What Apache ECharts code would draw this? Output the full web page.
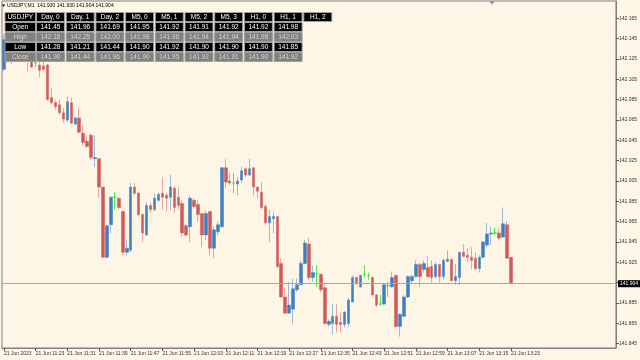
<!DOCTYPE html>
<html><head><meta charset="utf-8">
<script src="https://cdn.jsdelivr.net/npm/echarts@6/dist/echarts.min.js"></script>
<style>html,body{margin:0;padding:0;background:#fdf5e6}#c{width:640px;height:360px}</style>
</head><body><div id="c"></div>
<script>
// ---- data ----
const symbolTitle = 'USDJPY,M1  141.930 141.930 141.904 141.904';
const firstLabel = '21 Jun 2023';
const datePrefix = '21 Jun ';
const startHour = 11, startMinute = 15, slotCount = 155;
const opens = [142.115,142.144,142.130,142.145,142.150,142.142,142.148,142.130,142.121,142.119,
142.118,142.119,142.087,142.082,142.080,142.072,142.065,142.082,142.061,142.067,
142.052,142.044,142.050,142.027,142.027,141.999,141.930,141.962,141.989,141.988,
141.975,141.935,141.937,141.999,141.993,141.972,141.952,141.981,141.977,141.986,
141.993,141.991,141.989,141.998,141.989,141.983,141.961,141.960,141.986,141.982,
141.973,141.952,141.975,141.939,141.955,141.960,142.018,142.005,142.003,142.002,
142.006,142.017,142.011,142.018,141.999,141.994,141.980,141.964,141.968,141.970,
141.924,141.891,141.875,141.879,141.898,141.903,141.924,141.943,141.910,141.914,
141.913,141.900,141.864,141.865,141.872,141.866,141.864,141.865,141.886,141.910,
141.901,141.913,141.912,141.910,141.893,141.884,141.884,141.902,141.901,141.912,
141.862,141.872,141.891,141.907,141.911,141.923,141.918,141.920,141.921,141.911,
141.923,141.911,141.926,141.928,141.907,141.910,141.935,141.932,141.930,141.929,
141.919,141.930,141.942,141.953,141.954,141.954,141.950,141.962,141.930];
const closes = [142.144,142.130,142.145,142.150,142.142,142.148,142.130,142.117,142.121,142.114,
142.115,142.085,142.082,142.078,142.072,142.066,142.083,142.062,142.067,142.053,
142.043,142.039,142.028,142.028,141.999,141.930,141.961,141.989,141.989,141.979,
141.935,141.939,141.999,141.993,141.972,141.954,141.981,141.977,141.988,141.992,
141.989,141.988,141.999,141.979,141.981,141.954,141.952,141.988,141.980,141.972,
141.952,141.973,141.939,141.957,141.962,142.018,142.004,142.003,142.003,142.005,
142.015,142.011,142.017,141.999,141.995,141.979,141.964,141.970,141.970,141.921,
141.891,141.875,141.883,141.899,141.903,141.924,141.944,141.910,141.915,141.914,
141.898,141.865,141.867,141.872,141.864,141.864,141.876,141.888,141.910,141.905,
141.912,141.913,141.912,141.893,141.883,141.884,141.903,141.902,141.910,141.862,
141.874,141.891,141.911,141.911,141.923,141.911,141.924,141.911,141.910,141.923,
141.911,141.927,141.928,141.907,141.911,141.935,141.931,141.930,141.927,141.919,
141.930,141.945,141.953,141.954,141.954,141.949,141.963,141.929,141.904];
const lows = [142.113,142.127,142.120,142.141,142.138,142.136,142.113,142.116,142.117,142.107,
142.113,142.084,142.080,142.075,142.070,142.062,142.063,142.061,142.060,142.052,
142.040,142.038,142.026,142.019,141.989,141.929,141.929,141.954,141.977,141.977,
141.932,141.932,141.935,141.991,141.970,141.945,141.951,141.974,141.975,141.985,
141.977,141.975,141.977,141.974,141.977,141.950,141.950,141.945,141.978,141.965,
141.940,141.947,141.932,141.929,141.952,141.959,141.998,142.001,141.993,141.991,
142.003,142.009,142.010,141.991,141.988,141.977,141.962,141.945,141.954,141.919,
141.890,141.875,141.875,141.864,141.896,141.903,141.923,141.908,141.906,141.901,
141.896,141.864,141.862,141.854,141.856,141.856,141.861,141.862,141.886,141.903,
141.900,141.910,141.908,141.891,141.881,141.882,141.883,141.891,141.900,141.861,
141.852,141.871,141.890,141.905,141.910,141.901,141.915,141.910,141.905,141.909,
141.905,141.908,141.925,141.906,141.903,141.903,141.930,141.925,141.918,141.917,
141.915,141.929,141.940,141.942,141.952,141.947,141.949,141.929,141.904];
const highs = [142.149,142.150,142.152,142.156,142.160,142.152,142.150,142.135,142.127,142.122,
142.124,142.120,142.096,142.085,142.085,142.077,142.088,142.087,142.068,142.077,
142.060,142.050,142.052,142.050,142.027,141.999,141.962,141.990,141.994,141.989,
141.976,141.947,142.003,142.003,141.994,141.972,141.984,141.984,141.993,141.993,
142.009,141.993,142.011,142.000,141.999,141.986,141.963,141.991,141.988,141.986,
141.973,141.976,141.975,141.960,141.965,142.019,142.027,142.013,142.013,142.009,
142.019,142.018,142.027,142.018,141.999,142.004,141.982,141.977,141.975,141.970,
141.929,141.900,141.906,141.909,141.909,141.927,141.947,141.949,141.922,141.922,
141.914,141.905,141.869,141.884,141.884,141.876,141.877,141.890,141.912,141.911,
141.913,141.922,141.915,141.911,141.894,141.893,141.904,141.906,141.916,141.913,
141.875,141.893,141.912,141.913,141.927,141.925,141.927,141.931,141.927,141.925,
141.923,141.929,141.937,141.928,141.923,141.935,141.943,141.939,141.940,141.935,
141.932,141.946,141.964,141.960,141.959,141.958,141.979,141.966,141.930];
const currentPrice = 141.904;
const yTicks = [141.845,141.865,141.885,141.905,141.925,141.945,141.965,141.985,142.005,142.025,
142.045,142.065,142.085,142.105,142.125,142.145,142.165];
const tableHeaders = ['USDJPY','Day, 0','Day, 1','Day, 2','M5, 0','M5, 1','M5, 2','M5, 3','H1, 0','H1, 1','H1, 2'];
const rowLabels = ['Open','High','Low','Close'];
const openRow  = ['141.45','141.96','141.69','141.95','141.92','141.91','141.92','141.92','141.98'];
const highRow  = ['142.16','142.25','142.00','141.98','141.96','141.94','141.94','141.98','142.03'];
const lowRow   = ['141.28','141.21','141.44','141.90','141.92','141.90','141.90','141.90','141.85'];
const closeRow = ['141.90','141.44','141.96','141.90','141.95','141.92','141.91','141.90','141.92'];

// ---- build ----
const times = [];
for (let k = 0; k < slotCount; k++) {
  const t = startHour * 60 + startMinute + k;
  times.push(String(Math.floor(t / 60)).padStart(2, '0') + ':' + String(t % 60).padStart(2, '0'));
}
const ohlc = opens.map((o, i) => [o, closes[i], lows[i], highs[i]]);
const lastBar = opens.length - 1;
const showIdx = (i) => i % 8 === 0 && i <= lastBar;

const FONT = 'Liberation Sans';
const table = [];
const colX = (k) => k === 0 ? 5 : 36.5 + (k - 1) * 29.7;
const colW = (k) => k === 0 ? 30.5 : 28;
function cell(x, y, w, h, txt, fill, tcol) {
  table.push({ type: 'rect', shape: { x: x, y: y, width: w, height: h }, style: { fill: fill, stroke: '#a0a0a0', lineWidth: 1 }, z: 100 });
  table.push({ type: 'text', x: x + w / 2, y: y + h / 2 + 0.5, style: { text: txt, fill: tcol, font: '6.5px "' + FONT + '"', align: 'center', verticalAlign: 'middle' }, z: 101 });
}
tableHeaders.forEach((h, k) => cell(colX(k), 12.5, colW(k), 9, h, '#000', '#fff'));
const rows = [openRow, highRow, lowRow, closeRow];
rows.forEach((r, ri) => {
  const y = 22.5 + ri * 10;
  const gray = ri % 2 === 1;
  const fill = gray ? '#808080' : '#000';
  const tc = gray ? '#d4d4d4' : '#fff';
  cell(colX(0), y, colW(0), 9, rowLabels[ri], fill, tc);
  r.forEach((v, k) => cell(colX(k + 1), y, colW(k + 1), 9, v, fill, tc));
});

const chart = echarts.init(document.getElementById('c'), null, { renderer: 'canvas' });
chart.setOption({
  animation: false,
  backgroundColor: '#fdf5e6',
  grid: { left: 2, right: 24, top: 1, bottom: 12, show: true, borderColor: '#808080', borderWidth: 1 },
  xAxis: {
    type: 'category', data: times, boundaryGap: true,
    axisLine: { lineStyle: { color: '#808080' } },
    axisTick: { show: true, alignWithLabel: true, interval: (i) => showIdx(i), length: 3, lineStyle: { color: '#555' } },
    axisLabel: { interval: (i) => showIdx(i), formatter: (v, i) => i === 0 ? firstLabel : datePrefix + v,
      align: 'left', fontSize: 5, color: '#333', margin: 3, fontFamily: FONT },
    splitLine: { show: false }
  },
  yAxis: {
    type: 'value', position: 'right', min: 141.8408, max: 142.182,
    axisLine: { show: true, lineStyle: { color: '#808080' } },
    axisTick: { show: true, length: 3, customValues: yTicks, lineStyle: { color: '#555' } },
    axisLabel: { customValues: yTicks, formatter: (v) => v.toFixed(3), fontSize: 5, color: '#333', margin: 3, fontFamily: FONT },
    splitLine: { show: false }
  },
  series: [{
    type: 'line', data: [], silent: true, z: 1,
    markLine: {
      silent: true, symbol: 'none', precision: 3,
      lineStyle: { color: '#a8a8a8', type: 'solid', width: 1 },
      label: { position: 'end', distance: 2, formatter: () => currentPrice.toFixed(3), backgroundColor: '#000', color: '#fff',
        fontSize: 5, fontFamily: FONT, padding: [1, 2] },
      data: [{ yAxis: currentPrice }]
    }
  }, {
    type: 'candlestick', data: ohlc, barWidth: 3, z: 3,
    itemStyle: {
      color: '#3f7fbf', color0: '#d05a5a',
      borderColor: 'rgba(63,127,191,0.5)', borderColor0: 'rgba(208,90,90,0.5)',
      borderColorDoji: 'rgba(40,230,40,0.8)', borderWidth: 1
    }
  }],
  graphic: [
    { type: 'polygon', shape: { points: [[2, 4.5], [5, 4.5], [3.5, 7]] }, style: { fill: '#000' }, z: 100 },
    { type: 'text', x: 7, y: 6, style: { text: symbolTitle, fill: '#000', font: '5px "' + FONT + '"', verticalAlign: 'middle' }, z: 100 },
    { type: 'polygon', shape: { points: [[489.5, 1.5], [494.5, 1.5], [492, 4.5]] }, style: { fill: '#7a8aa0' }, z: 100 },
    { type: 'group', children: table, z: 100 }
  ]
});
</script></body></html>
